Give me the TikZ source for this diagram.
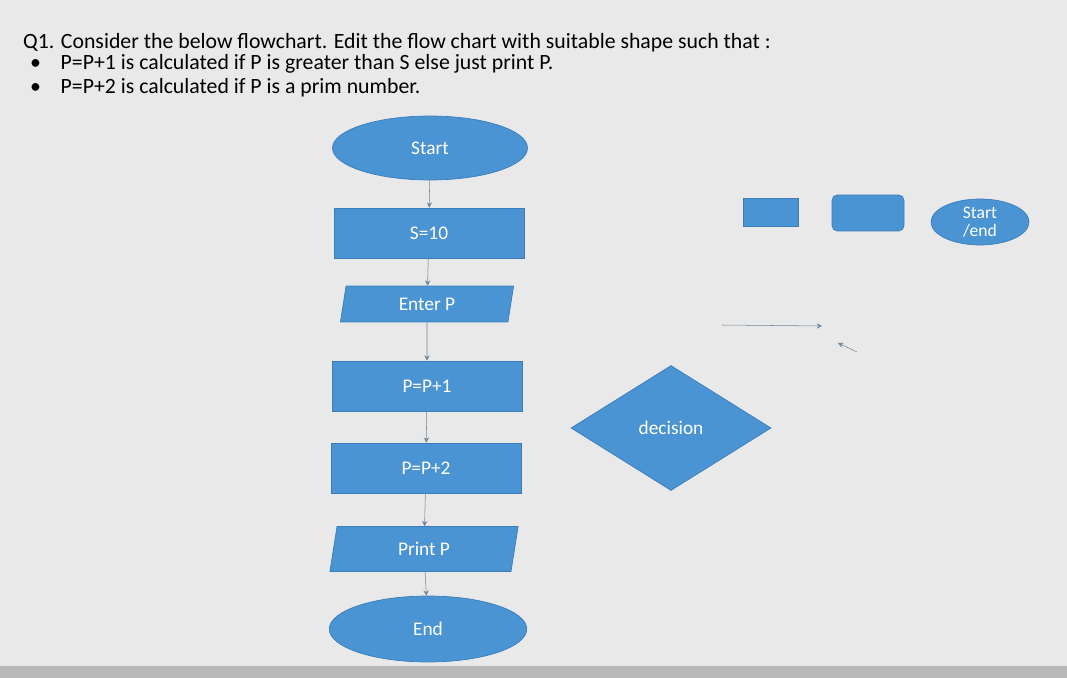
\documentclass[tikz,border=0pt]{standalone}
\usepackage{fontspec}
\setmainfont{Carlito}
\usetikzlibrary{shapes.geometric,arrows.meta}
\definecolor{bg}{HTML}{E9E9EA}
\definecolor{shp}{HTML}{4B94D3}
\definecolor{shpd}{HTML}{3A7DBA}
\tikzset{
 blk/.style={fill=shp,draw=shpd,line width=0.4pt,text=white,font=\fontsize{11}{12}\selectfont,inner sep=0pt},
 rbox/.style={blk,rectangle,minimum width=3.8cm,minimum height=1.0cm},
 ell/.style={blk,ellipse,minimum width=3.9cm,minimum height=1.28cm},
 para/.style={blk,trapezium,trapezium left angle=81,trapezium right angle=99,minimum width=2.8cm,minimum height=0.72cm},
 conn/.style={draw=gray!70!shp,line width=0.3pt,-{Stealth[length=3pt,width=3pt]}},
 ttl/.style={anchor=west,font=\fontsize{12.4}{14}\selectfont}
}
\begin{document}
\begin{tikzpicture}[x=0.02cm,y=-0.02cm]
\fill[bg] (0,0) rectangle (1067,678);
\fill[gray!55] (0,666) rectangle (1067,678);
\node[ttl] (title) at (17,43) {Q1. Consider the below flowchart. Edit the flow chart with suitable shape such that :};
\node[ttl] (b1) at (24,64) {\textbullet\hspace{0.9em}P=P+1 is calculated if P is greater than S else just print P.};
\node[ttl] (b2) at (24,88) {\textbullet\hspace{0.9em}P=P+2 is calculated if P is a prim number.};
\node[ell] (start) at (430,148) {Start};
\node[rbox] (s) at (429,233) {S=10};
\node[para] (enter) at (427,304) {Enter P};
\node[rbox] (p1) at (427,386) {P=P+1};
\node[rbox] (p2) at (426,468) {P=P+2};
\node[para,minimum width=3.2cm,minimum height=0.9cm] (print) at (424,549) {Print P};
\node[ell,minimum width=3.95cm,minimum height=1.32cm] (end) at (428,629) {End};
\draw[conn] (start) -- (s);
\draw[conn] (s) -- (enter);
\draw[conn] (enter) -- (p1);
\draw[conn] (p1) -- (p2);
\draw[conn] (p2) -- (print);
\draw[conn] (print) -- (end);
\node[blk,diamond,aspect=1.6,minimum width=4.0cm,minimum height=2.5cm] (dec) at (671,428) {decision};
\node[blk,rectangle,minimum width=1.1cm,minimum height=0.56cm] (r1) at (771,212) {};
\node[blk,rectangle,rounded corners=3pt,minimum width=1.44cm,minimum height=0.72cm] (r2) at (868,213) {};
\node[blk,ellipse,minimum width=1.96cm,minimum height=0.92cm,align=center,font=\fontsize{10}{10.5}\selectfont] (se) at (980,222) {Start\\/end};
\coordinate (a1) at (722,325);
\coordinate (a2) at (822,326);
\draw[conn] (a1) -- (a2);
\coordinate (a3) at (857,352);
\coordinate (a4) at (838,343);
\draw[conn] (a3) -- (a4);
\end{tikzpicture}
\end{document}
